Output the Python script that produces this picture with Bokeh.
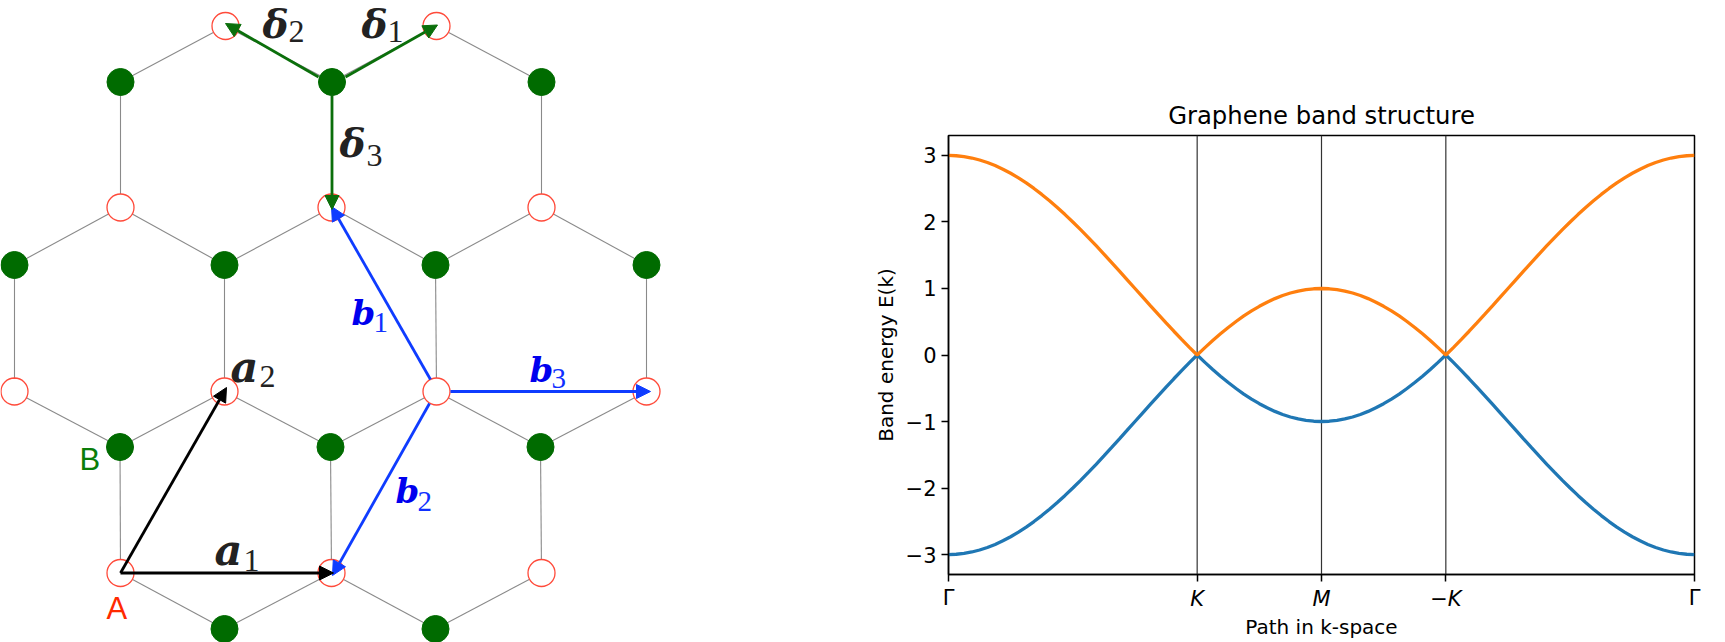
from bokeh.plotting import figure
from bokeh.layouts import row
from bokeh.models import Range1d, Arrow, NormalHead, Span, FixedTicker, LinearAxis
from bokeh.core.properties import value
from bokeh.embed import file_html
from bokeh.resources import INLINE

# ---- lattice picture (positions read in reference pixels) ----
A_x = [225, 436, 120, 331, 541, 14, 224, 436, 646, 120, 331, 541]
A_y = [25.5, 25.5, 207, 207, 207, 391, 391, 391, 391, 572.5, 572.5, 572.5]
B_x = [120, 331.5, 541, 14, 224, 435, 646, 119.5, 330, 540, 224, 435]
B_y = [81.5, 81.5, 81.5, 264.5, 264.5, 264.5, 264.5, 446.5, 446.5, 446.5, 628.5, 628.5]

arrow_a_x0 = [120, 120]
arrow_a_y0 = [572.5, 572.5]
arrow_a_x1 = [333, 226]
arrow_a_y1 = [572.5, 387]

arrow_b_x0 = [430, 429, 450]
arrow_b_y0 = [379, 403, 391]
arrow_b_x1 = [331, 332, 650]
arrow_b_y1 = [206, 575, 391]

arrow_d_x0 = [345, 318, 331.5]
arrow_d_y0 = [76.5, 76.5, 94]
arrow_d_x1 = [437, 225, 331.5]
arrow_d_y1 = [24.5, 23, 209]

delta_text = ["δ", "δ", "δ"]
delta_x = [361, 262, 339]
delta_y = [38, 38, 157]
delta_sub = ["1", "2", "3"]
delta_sub_x = [387, 288, 366]
delta_sub_y = [42, 42, 166]

a_text = ["a", "a"]
a_x = [214, 230]
a_y = [565, 382]
a_sub = ["1", "2"]
a_sub_x = [243, 259]
a_sub_y = [571, 387]

b_text = ["b", "b", "b"]
b_x = [351, 395, 529]
b_y = [326, 504, 383]
b_sub = ["1", "2", "3"]
b_sub_x = [373, 417, 551]
b_sub_y = [332, 511, 388]

# ---- band structure ----
k_path = [0, .0625, .125, .1875, .25, .3125, .375, .4375, .5, .5625, .625, .6875, .75, .8125, .875, .9375,
          1, 1.0625, 1.125, 1.1875, 1.25, 1.3125, 1.375, 1.4375, 1.5, 1.5625, 1.625, 1.6875, 1.75, 1.8125, 1.875, 1.9375,
          2, 2.0625, 2.125, 2.1875, 2.25, 2.3125, 2.375, 2.4375, 2.5, 2.5625, 2.625, 2.6875, 2.75, 2.8125, 2.875, 2.9375,
          3, 3.0625, 3.125, 3.1875, 3.25, 3.3125, 3.375, 3.4375, 3.5, 3.5625, 3.625, 3.6875, 3.75, 3.8125, 3.875, 3.9375,
          4, 4.0625, 4.125, 4.1875, 4.25, 4.3125, 4.375, 4.4375, 4.5, 4.5625, 4.625, 4.6875, 4.75, 4.8125, 4.875, 4.9375,
          5, 5.0625, 5.125, 5.1875, 5.25, 5.3125, 5.375, 5.4375, 5.5, 5.5625, 5.625, 5.6875, 5.75, 5.8125, 5.875, 5.9375, 6]
E_upper = [3, 2.9957, 2.983, 2.9616, 2.932, 2.8939, 2.848, 2.7937, 2.732, 2.6629, 2.587, 2.5037, 2.414, 2.3187, 2.218, 2.1111,
           2, 1.8846, 1.765, 1.6429, 1.518, 1.3902, 1.261, 1.1308, 1, .8692, .739, .6098, .482, .3571, .235, .1154,
           0, .1111, .218, .3187, .414, .5037, .587, .6629, .732, .7937, .848, .8939, .932, .9616, .983, .9957,
           1, .9957, .983, .9616, .932, .8939, .848, .7937, .732, .6629, .587, .5037, .414, .3187, .218, .1111,
           0, .1154, .235, .3571, .482, .6098, .739, .8692, 1, 1.1308, 1.261, 1.3902, 1.518, 1.6429, 1.765, 1.8846,
           2, 2.1111, 2.218, 2.3187, 2.414, 2.5037, 2.587, 2.6629, 2.732, 2.7937, 2.848, 2.8939, 2.932, 2.9616, 2.983, 2.9957, 3]
E_lower = [-3, -2.9957, -2.983, -2.9616, -2.932, -2.8939, -2.848, -2.7937, -2.732, -2.6629, -2.587, -2.5037, -2.414, -2.3187, -2.218, -2.1111,
           -2, -1.8846, -1.765, -1.6429, -1.518, -1.3902, -1.261, -1.1308, -1, -.8692, -.739, -.6098, -.482, -.3571, -.235, -.1154,
           0, -.1111, -.218, -.3187, -.414, -.5037, -.587, -.6629, -.732, -.7937, -.848, -.8939, -.932, -.9616, -.983, -.9957,
           -1, -.9957, -.983, -.9616, -.932, -.8939, -.848, -.7937, -.732, -.6629, -.587, -.5037, -.414, -.3187, -.218, -.1111,
           0, -.1154, -.235, -.3571, -.482, -.6098, -.739, -.8692, -1, -1.1308, -1.261, -1.3902, -1.518, -1.6429, -1.765, -1.8846,
           -2, -2.1111, -2.218, -2.3187, -2.414, -2.5037, -2.587, -2.6629, -2.732, -2.7937, -2.848, -2.8939, -2.932, -2.9616, -2.983, -2.9957, -3]
x_ticks = [0, 2, 3, 4, 6]
x_tick_labels = ["", "K", "M", "−K", ""]
gamma_ticks = [0, 6]
gamma_labels = ["Γ", "Γ"]
y_ticks = [-3, -2, -1, 0, 1, 2, 3]
y_tick_labels = ["−3", "−2", "−1", "0", "1", "2", "3"]
vlines = [2, 3, 4]

# ---- left: lattice ----
left = figure(width=860, height=642, output_backend="svg", toolbar_location=None,
              x_range=Range1d(0, 860), y_range=Range1d(642, 0),
              x_axis_location=None, y_axis_location=None,
              min_border=0, outline_line_color=None, frame_align=False)
left.grid.visible = False

bx0, by0, bx1, by1 = [], [], [], []
for xa, ya in zip(A_x, A_y):
    for xb, yb in zip(B_x, B_y):
        if (xa - xb) ** 2 + (ya - yb) ** 2 < 135 ** 2:
            bx0.append(xa); by0.append(ya); bx1.append(xb); by1.append(yb)
left.segment(bx0, by0, bx1, by1, line_color="#8a8a8a", line_width=1.1)
left.scatter(B_x, B_y, size=27, marker="circle", fill_color="#006b00", line_color="#006b00", line_width=1)
left.scatter(A_x, A_y, size=27, marker="circle", fill_color="white", line_color="#ff4a3a", line_width=1.3)


def arrows(x0, y0, x1, y1, color, head=14):
    for a, b, c, d in zip(x0, y0, x1, y1):
        left.add_layout(Arrow(end=NormalHead(size=head, fill_color=color, line_color=color, line_width=1),
                              x_start=a, y_start=b, x_end=c, y_end=d,
                              line_color=color, line_width=2.8))


arrows(arrow_b_x0, arrow_b_y0, arrow_b_x1, arrow_b_y1, "#0f3cff")
arrows(arrow_d_x0, arrow_d_y0, arrow_d_x1, arrow_d_y1, "#0b6f0b")
arrows(arrow_a_x0, arrow_a_y0, arrow_a_x1, arrow_a_y1, "#000000")


def labels(xs, ys, txt, color, size, font, style, shift):
    left.text(xs, ys, text=txt, text_color=color, text_font_size=size,
              text_font=value(font), text_font_style=style, y_offset=shift,
              text_align="left", text_baseline="alphabetic")


labels(delta_x, delta_y, delta_text, "#222222", "39px", "DejaVu Serif", "bold italic", -15)
labels(delta_sub_x, delta_sub_y, delta_sub, "#222222", "32px", "Liberation Serif", "normal", -11)
labels(a_x, a_y, a_text, "#222222", "43px", "DejaVu Serif", "bold italic", -16)
labels(a_sub_x, a_sub_y, a_sub, "#222222", "32px", "Liberation Serif", "normal", -11)
labels(b_x, b_y, b_text, "#0000ee", "34px", "DejaVu Serif", "bold italic", -14)
labels(b_sub_x, b_sub_y, b_sub, "#1030ff", "29px", "Liberation Serif", "normal", -10)
labels([106], [620], ["A"], "#ff2a00", "31px", "Liberation Sans", "normal", -12)
labels([79], [471], ["B"], "#0a7d0a", "31px", "Liberation Sans", "normal", -12)

# ---- right: bands ----
right = figure(width=865, height=642, output_backend="svg", toolbar_location=None,
               x_range=Range1d(0, 6), y_range=Range1d(-3.3, 3.3), frame_align=False,
               min_border_left=88, min_border_right=31, min_border_top=135, min_border_bottom=68,
               title="Graphene band structure", y_axis_label="Band energy E(k)")
right.grid.visible = False
right.outline_line_color = "#000000"
right.outline_line_width = 1.5
right.title.align = "center"
right.title.text_font = "DejaVu Sans"
right.title.text_font_size = "24.3px"
right.title.text_font_style = "normal"
right.title.text_color = "#000000"
right.title.standoff = 11

for loc in vlines:
    right.add_layout(Span(location=loc, dimension="height", line_color="#333333", line_width=1.2, level="underlay"))
right.line(k_path, E_lower, line_color="#1f77b4", line_width=3.3)
right.line(k_path, E_upper, line_color="#ff7f0e", line_width=3.3)

ax = right.xaxis[0]
ax.ticker = FixedTicker(ticks=x_ticks)
ax.major_label_overrides = dict(zip(x_ticks, x_tick_labels))
ax.major_label_text_font_style = "italic"
ay = right.yaxis[0]
ay.ticker = FixedTicker(ticks=y_ticks)
ay.major_label_overrides = dict(zip(y_ticks, y_tick_labels))

# Upright capital gamma end labels, on an axis of their own laid over the italic one
ag = LinearAxis(ticker=FixedTicker(ticks=gamma_ticks),
                major_label_overrides=dict(zip(gamma_ticks, gamma_labels)),
                axis_label="Path in k-space",
                axis_line_color=None, major_tick_line_color=None, minor_tick_line_color=None,
                major_tick_out=0, major_tick_in=0)
right.add_layout(ag, "below")

for a in (ax, ay, ag):
    a.minor_tick_line_color = None
    a.major_tick_in = 0
    a.major_label_text_font = "DejaVu Sans"
    a.major_label_text_font_size = "21px"
    a.major_label_text_color = "#000000"
    a.axis_label_text_font = "DejaVu Sans"
    a.axis_label_text_font_size = "20px"
    a.axis_label_text_font_style = "normal"
    a.axis_label_text_color = "#000000"
    a.major_label_standoff = 5
    a.axis_label_standoff = 5
for a in (ax, ay):
    a.major_tick_out = 7
    a.major_tick_line_width = 1.5
    a.major_tick_line_color = "#000000"
    a.axis_line_width = 1.5
    a.axis_line_color = "#000000"
ag.major_tick_out = 0
ag.major_label_standoff = -28
ag.axis_label_standoff = 2

page = row(left, right)
open("out.html", "w").write(file_html(page, INLINE))
